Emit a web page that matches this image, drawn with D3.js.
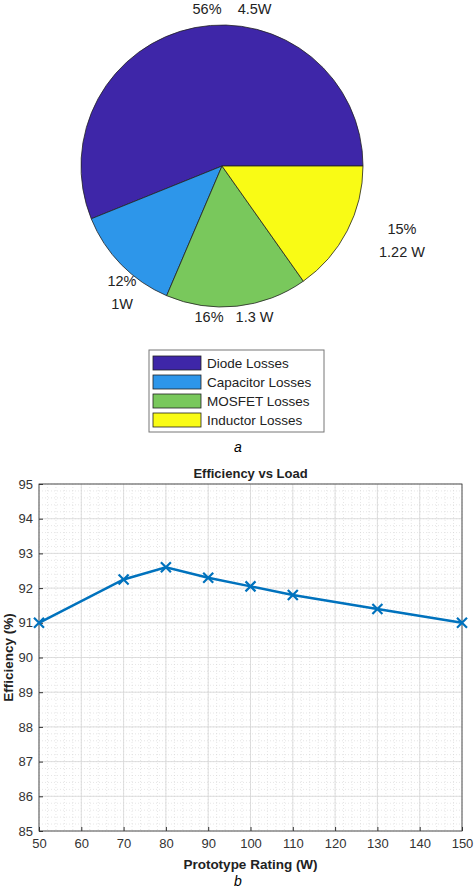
<!DOCTYPE html>
<html><head><meta charset="utf-8">
<script src="https://cdn.jsdelivr.net/npm/d3@7"></script>
<style>
body{margin:0;background:#fff;font-family:"Liberation Sans",Arial,sans-serif;}
</style></head>
<body><svg id="c" width="474" height="888"></svg>
<script>
// pie data
var lossNames = ['Diode Losses', 'Capacitor Losses', 'MOSFET Losses', 'Inductor Losses'];
var lossWatts = [4.5, 1, 1.3, 1.22];
var lossColors = ['#3e26a8', '#2d96ea', '#79c85c', '#f9fb15'];
var lossLabels = [['56%    4.5W'], ['12%', '1W'], ['16%   1.3 W'], ['15%', '1.22 W']];

// line data
var ratings = [50, 70, 80, 90, 100, 110, 130, 150];
var efficiency = [91.0, 92.25, 92.6, 92.3, 92.05, 91.8, 91.4, 91.0];
var xTicks = [50, 60, 70, 80, 90, 100, 110, 120, 130, 140, 150];
var yTicks = [85, 86, 87, 88, 89, 90, 91, 92, 93, 94, 95];

var svg = d3.select('#c');

// ---- pie (a) ----
var cx = 222, cy = 166, r = 141;
var pie = d3.pie().sort(null)
    .startAngle(Math.PI / 2).endAngle(Math.PI / 2 - 2 * Math.PI);
var arc = d3.arc().innerRadius(0).outerRadius(r);
var gp = svg.append('g').attr('transform', 'translate(' + cx + ',' + cy + ')');
var arcs = pie(lossWatts);
gp.selectAll('path').data(arcs).enter().append('path')
    .attr('d', arc)
    .attr('fill', function (d, i) { return lossColors[i]; })
    .attr('stroke', '#222').attr('stroke-width', 0.8);

// label spots relative to the pie centre (MATLAB puts them just outside)
var labelSpots = [[10, -152], [-100, 120], [12, 156], [180, 68]];
var labelAnchor = ['middle', 'middle', 'middle', 'middle'];
gp.selectAll('text.lbl').data(lossLabels).enter().append('text')
    .attr('class', 'lbl')
    .attr('font-size', 14.5).attr('fill', '#222')
    .attr('text-anchor', function (d, i) { return labelAnchor[i]; })
    .each(function (d, i) {
        var t = d3.select(this);
        d.forEach(function (line, j) {
            t.append('tspan').attr('x', labelSpots[i][0])
                .attr('y', labelSpots[i][1] + j * 23)
                .attr('xml:space', 'preserve')
                .text(line);
        });
    });

// legend
var lg = svg.append('g').attr('transform', 'translate(149,350)');
lg.append('rect').attr('width', 175).attr('height', 82)
    .attr('fill', '#fff').attr('stroke', '#777');
lossNames.forEach(function (n, i) {
    var y = 6 + i * 19;
    lg.append('rect').attr('x', 4).attr('y', y).attr('width', 48).attr('height', 14)
        .attr('fill', lossColors[i]).attr('stroke', '#222').attr('stroke-width', 0.8);
    lg.append('text').attr('x', 58).attr('y', y + 12).attr('font-size', 13.5)
        .attr('fill', '#222').text(n);
});
svg.append('text').attr('x', 238).attr('y', 452).attr('text-anchor', 'middle')
    .attr('font-style', 'italic').attr('font-size', 14).text('a');

// ---- line chart (b) ----
var m = {l: 39, r: 462, t: 484, b: 831};
var x = d3.scaleLinear().domain([50, 150]).range([m.l, m.r]);
var y = d3.scaleLinear().domain([85, 95]).range([m.b, m.t]);

var grid = svg.append('g');
// minor grid
d3.range(50, 150.01, 2).forEach(function (v) {
    grid.append('line').attr('x1', x(v)).attr('x2', x(v)).attr('y1', m.t).attr('y2', m.b)
        .attr('stroke', '#ccc').attr('stroke-width', 0.5).attr('stroke-dasharray', '1,2');
});
d3.range(85, 95.001, 0.2).forEach(function (v) {
    grid.append('line').attr('y1', y(v)).attr('y2', y(v)).attr('x1', m.l).attr('x2', m.r)
        .attr('stroke', '#ccc').attr('stroke-width', 0.5).attr('stroke-dasharray', '1,2');
});
// major grid
xTicks.forEach(function (v) {
    grid.append('line').attr('x1', x(v)).attr('x2', x(v)).attr('y1', m.t).attr('y2', m.b)
        .attr('stroke', '#d6d6d6').attr('stroke-width', 0.8);
});
yTicks.forEach(function (v) {
    grid.append('line').attr('y1', y(v)).attr('y2', y(v)).attr('x1', m.l).attr('x2', m.r)
        .attr('stroke', '#d6d6d6').attr('stroke-width', 0.8);
});
svg.append('rect').attr('x', m.l).attr('y', m.t).attr('width', m.r - m.l).attr('height', m.b - m.t)
    .attr('fill', 'none').attr('stroke', '#333').attr('stroke-width', 0.8);

var xa = svg.append('g').attr('transform', 'translate(0,' + m.b + ')')
    .call(d3.axisBottom(x).tickValues(xTicks).tickSize(-4).tickPadding(8));
var ya = svg.append('g').attr('transform', 'translate(' + m.l + ',0)')
    .call(d3.axisLeft(y).tickValues(yTicks).tickSize(-4).tickPadding(6));
[xa, ya].forEach(function (a) {
    a.select('.domain').remove();
    a.selectAll('line').attr('stroke', '#333');
    a.selectAll('text').attr('font-size', 13).attr('fill', '#333')
        .attr('font-family', '"Liberation Sans",Arial,sans-serif');
});

var line = d3.line().x(function (d, i) { return x(ratings[i]); })
    .y(function (d) { return y(d); });
svg.append('path').datum(efficiency).attr('d', line)
    .attr('fill', 'none').attr('stroke', '#0072bd').attr('stroke-width', 2.5);
var s = 5;
svg.selectAll('path.mk').data(efficiency).enter().append('path')
    .attr('class', 'mk')
    .attr('d', function (d, i) {
        var px = x(ratings[i]), py = y(d);
        return 'M' + (px - s) + ',' + (py - s) + 'L' + (px + s) + ',' + (py + s) +
            'M' + (px - s) + ',' + (py + s) + 'L' + (px + s) + ',' + (py - s);
    })
    .attr('stroke', '#0072bd').attr('stroke-width', 2.2);

svg.append('text').attr('x', (m.l + m.r) / 2).attr('y', 478).attr('text-anchor', 'middle')
    .attr('font-weight', 'bold').attr('font-size', 13).attr('fill', '#222').text('Efficiency vs Load');
svg.append('text').attr('x', (m.l + m.r) / 2).attr('y', 869).attr('text-anchor', 'middle')
    .attr('font-weight', 'bold').attr('font-size', 13.5).attr('fill', '#222').text('Prototype Rating (W)');
svg.append('text').attr('transform', 'translate(13,' + ((m.t + m.b) / 2) + ') rotate(-90)')
    .attr('text-anchor', 'middle').attr('font-weight', 'bold').attr('font-size', 13.5)
    .attr('fill', '#222').text('Efficiency (%)');
svg.append('text').attr('x', 238).attr('y', 886).attr('text-anchor', 'middle')
    .attr('font-style', 'italic').attr('font-size', 14).text('b');
</script></body></html>
